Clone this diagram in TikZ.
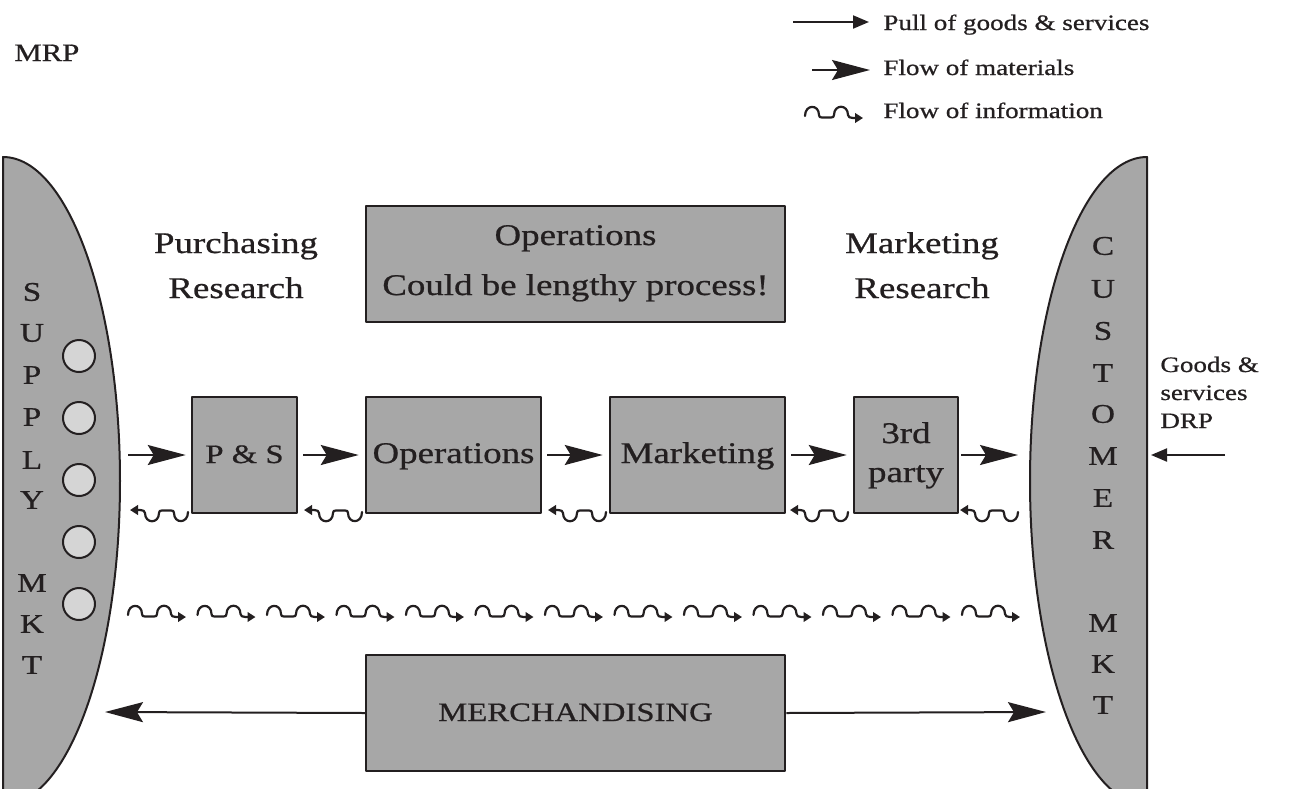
\documentclass[tikz,border=0pt]{standalone}
\usepackage{fontspec}
\setmainfont{Liberation Serif}[FakeStretch=1.23, FakeBold=0.7]
\usetikzlibrary{arrows.meta}
\definecolor{ink}{HTML}{231F20}
\definecolor{boxgray}{HTML}{A7A7A7}
\definecolor{dotgray}{HTML}{D5D5D5}
\tikzset{
  boxshape/.style={draw=ink, fill=boxgray, line width=1.25pt, inner sep=0pt},
  mktshape/.style={draw=ink, fill=boxgray, line width=1pt},
  dot/.style={circle, draw=ink, fill=dotgray, line width=1pt, minimum size=16pt, inner sep=0pt},
  bigtxt/.style={text=ink, inner sep=0pt, font=\fontsize{15}{21}\selectfont},
  captxt/.style={text=ink, inner sep=0pt, font=\fontsize{13.3}{16}\selectfont},
  letter/.style={text=ink, inner sep=0pt, font=\fontsize{13.5}{16}\selectfont},
  smalltxt/.style={text=ink, inner sep=0pt, font=\fontsize{11}{14}\selectfont},
  mat/.style={draw=ink, line width=1pt, -{Stealth[length=19pt,width=10pt,inset=3pt]}},
  pullarrow/.style={draw=ink, line width=1pt, -{Triangle[length=8pt,width=6.5pt]}},
  infoline/.style={draw=ink, line width=1.1pt, line cap=round, -{Triangle[length=4pt,width=4.8pt]}},
  info/.pic={\draw[infoline] (0,0) .. controls (0,-12) and (14,-12) .. (14,-1)
      .. controls (14,1) and (15,1.5) .. (17,1.5) -- (26,1.5)
      .. controls (28,1.5) and (29,1) .. (29,-1)
      .. controls (29,-12) and (43,-12) .. (43,-1)
      .. controls (43,1) and (45,2) .. (48,2) -- (58,2);}
}
\begin{document}
\begin{tikzpicture}[x=0.5pt, y=-0.5pt, line join=round]
\useasboundingbox (0,0) rectangle (1312,788);

% market shapes
\begin{scope}
\clip (0,0) rectangle (1312,788);
\draw[mktshape] (3,157) arc[start angle=-90, end angle=90, x radius=117, y radius=324] -- cycle;
\draw[mktshape] (1147,157) arc[start angle=270, end angle=90, x radius=117, y radius=324] -- cycle;
\end{scope}

% supply letters
\foreach \l/\yy [count=\i] in {S/292,U/333,P/375,P/417,L/460,Y/500,M/583,K/624,T/665}
  \node[letter] (sup\i) at (32,\yy) {\l};
% customer letters
\foreach \l/\yy [count=\i] in {C/246,U/289,S/331,T/373,O/414,M/456,E/498,R/540,M/623,K/664,T/705}
  \node[letter] (cus\i) at (1103,\yy) {\l};
% dots
\foreach \yy [count=\i] in {356,418,480,542,604}
  \node[dot] (dot\i) at (79,\yy) {};

% title and legend
\node[text=ink, inner sep=0pt, font=\fontsize{12.5}{15}\selectfont, anchor=base west] (mrp) at (14,61) {MRP};
\coordinate (pullA) at (793,22);
\coordinate (pullB) at (869,22);
\draw[pullarrow] (pullA) -- (pullB);
\node[smalltxt, anchor=base west] (legPull) at (883,30) {Pull of goods \& services};
\coordinate (matA) at (812,70);
\coordinate (matB) at (870,70);
\draw[mat] (matA) -- (matB);
\node[smalltxt, anchor=base west] (legMat) at (883,75) {Flow of materials};
\pic at (805,116) {info};
\node[smalltxt, anchor=base west] (legInfo) at (883,118) {Flow of information};

% labels
\node[bigtxt, anchor=base] (purA) at (236,253) {Purchasing};
\node[bigtxt, anchor=base] (purB) at (236,298) {Research};
\node[bigtxt, anchor=base] (mkrA) at (922,253) {Marketing};
\node[bigtxt, anchor=base] (mkrB) at (922,298) {Research};

% top operations box
\node[boxshape, minimum width=209.5pt, minimum height=58pt] (opsTop) at (575.5,264) {};
\node[bigtxt, anchor=base] (opsTopA) at (575.5,245) {Operations};
\node[bigtxt, anchor=base] (opsTopB) at (575.5,295) {Could be lengthy process!};

% chain boxes
\node[boxshape, minimum width=52.5pt, minimum height=58pt] (ps) at (244.5,455) {};
\node[captxt, anchor=base] (psT) at (244.5,463) {P \& S};
\node[boxshape, minimum width=87.5pt, minimum height=58pt] (ops) at (453.5,455) {};
\node[bigtxt, anchor=base] (opsT) at (453.5,463) {Operations};
\node[boxshape, minimum width=87.5pt, minimum height=58pt] (mkt) at (697.5,455) {};
\node[bigtxt, anchor=base] (mktT) at (697.5,463) {Marketing};
\node[boxshape, minimum width=52pt, minimum height=58pt] (third) at (906,455) {};
\node[bigtxt, anchor=base] (thirdA) at (906,443) {3rd};
\node[bigtxt, anchor=base] (thirdB) at (906,482) {party};

% merchandising
\node[boxshape, minimum width=209.5pt, minimum height=58pt] (merch) at (575.5,713) {};
\node[captxt, anchor=base] (merchT) at (575.5,721) {MERCHANDISING};

% material flows
\coordinate (supOut) at (128,455);
\coordinate (cusIn) at (1018,455);
\draw[mat, shorten >=2.5pt] (supOut) -- (ps.west);
\draw[mat, shorten <=2.5pt, shorten >=3pt] (ps.east) -- (ops.west);
\draw[mat, shorten <=2.5pt, shorten >=3pt] (ops.east) -- (mkt.west);
\draw[mat, shorten <=2.5pt, shorten >=3pt] (mkt.east) -- (third.west);
\draw[mat, shorten <=1pt] (third.east) -- (cusIn);

% merchandising arrows
\coordinate (supM) at (105,712);
\coordinate (cusM) at (1046,712);
\draw[mat] (merch.west) -- (supM);
\draw[mat] (merch.east) -- (cusM);

% goods & services DRP
\node[smalltxt, anchor=base west] (gsA) at (1160,372) {Goods \&};
\node[smalltxt, anchor=base west] (gsB) at (1160,400) {services};
\node[smalltxt, anchor=base west] (gsC) at (1160,428) {DRP};
\coordinate (drpA) at (1225,455);
\coordinate (drpB) at (1151,455);
\draw[pullarrow] (drpA) -- (drpB);

% backward information flows
\foreach \xx in {188,362,606,848,1018}
  \pic[rotate=180] at (\xx,512) {info};
% forward information flows
\foreach \i in {0,...,12}
  \pic at ({128+69.5*\i},615) {info};
\end{tikzpicture}
\end{document}
